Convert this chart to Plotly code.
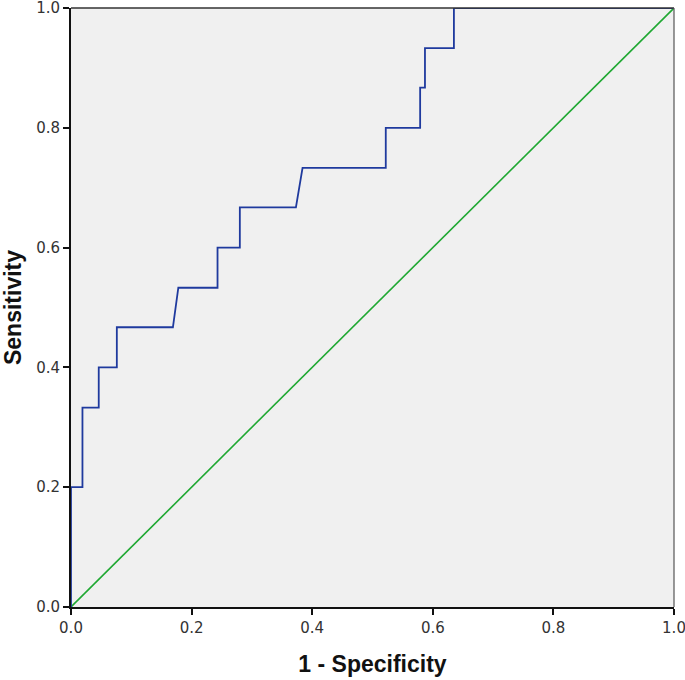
import plotly.graph_objects as go

# ROC curve points
fpr = [0, 0, 0.019, 0.019, 0.046, 0.046, 0.076, 0.076, 0.169, 0.178, 0.243, 0.243,
       0.280, 0.280, 0.373, 0.384, 0.522, 0.522, 0.579, 0.579, 0.587, 0.587, 0.635, 0.635, 1.0]
tpr = [0, 0.2, 0.2, 0.333, 0.333, 0.4, 0.4, 0.467, 0.467, 0.533, 0.533, 0.6,
       0.6, 0.667, 0.667, 0.733, 0.733, 0.8, 0.8, 0.867, 0.867, 0.933, 0.933, 1.0, 1.0]

ref_x = [0, 1]
ref_y = [0, 1]

tick_vals = [0.0, 0.2, 0.4, 0.6, 0.8, 1.0]
tick_text = ["0.0", "0.2", "0.4", "0.6", "0.8", "1.0"]

fig = go.Figure()
fig.add_trace(go.Scatter(x=ref_x, y=ref_y, mode="lines",
                         line=dict(color="#1fa832", width=1.6), showlegend=False))
fig.add_trace(go.Scatter(x=fpr, y=tpr, mode="lines",
                         line=dict(color="#1f3a9e", width=1.8), showlegend=False))

axis_common = dict(
    range=[0, 1], tickvals=tick_vals, ticktext=tick_text,
    showgrid=False, zeroline=False, automargin=False, ticklabeloverflow="allow",
    ticks="outside", ticklen=6, tickwidth=2, tickcolor="#111",
    showline=True, linecolor="#111", linewidth=2, mirror=False,
    tickfont=dict(family="DejaVu Sans", size=15, color="#333"),
)
title_font = dict(family="Liberation Sans, Arial", size=23, color="#111")

fig.update_layout(
    width=685, height=680,
    margin=dict(l=71, r=11, t=8, b=73),
    paper_bgcolor="white", plot_bgcolor="#f0f0f0",
    xaxis=dict(axis_common, title=dict(text="<b>1 - Specificity</b>", standoff=20, font=title_font)),
    yaxis=dict(axis_common, title=dict(text="<b>Sensitivity</b>", standoff=14, font=title_font)),
    shapes=[
        dict(type="line", xref="paper", yref="paper", x0=0, x1=1, y0=1, y1=1,
             line=dict(color="#333", width=1.5)),
        dict(type="line", xref="paper", yref="paper", x0=1, x1=1, y0=0, y1=1,
             line=dict(color="#555", width=1.2)),
    ],
)

# drop the page's default body margin so the figure sits at the window corner
fig.write_html("out.html", config={"displayModeBar": False},
               post_script="document.body.style.margin='0px';")
